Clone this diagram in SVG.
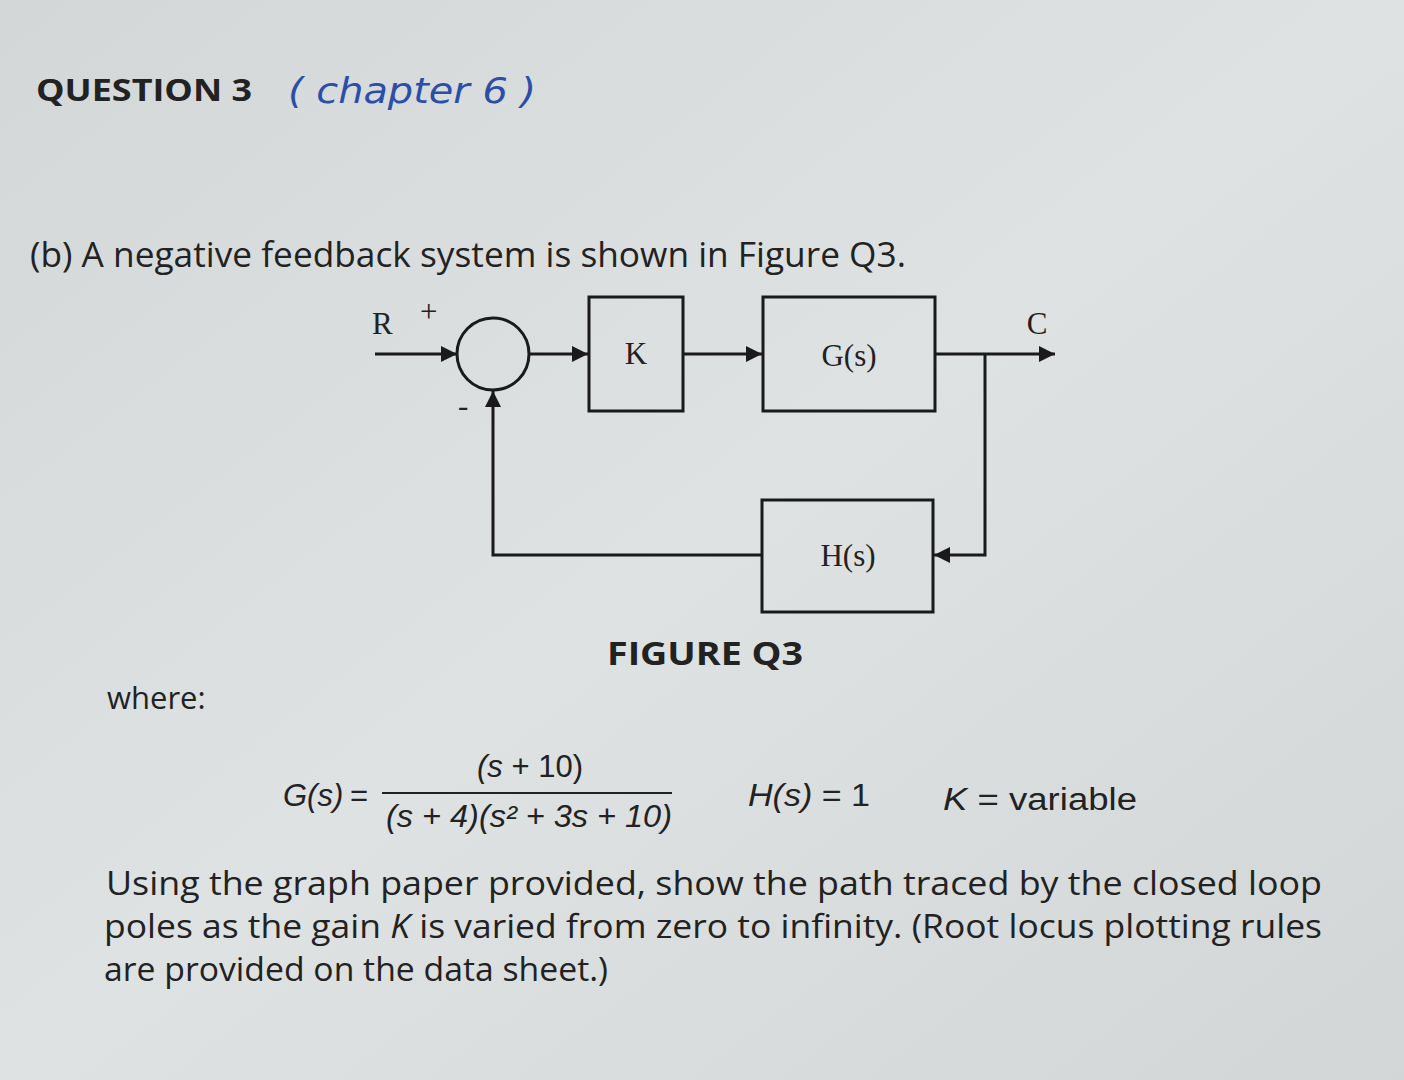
<svg xmlns="http://www.w3.org/2000/svg" width="1404" height="1080" viewBox="0 0 1404 1080">
<defs>
<linearGradient id="bg" x1="0" y1="0" x2="1" y2="1"><stop offset="0" stop-color="#d3d7d8"/><stop offset="0.5" stop-color="#dee2e3"/><stop offset="1" stop-color="#d2d6d7"/></linearGradient>
<marker id="ah" viewBox="0 0 10 10" refX="10" refY="5" markerWidth="28" markerHeight="16" markerUnits="userSpaceOnUse" orient="auto"><path d="M0,0L10,5L0,10z" fill="#1a1a1a"/></marker>
</defs>
<style>
.s{font-family:"Open Sans","Liberation Sans",sans-serif;fill:#222}
.t{font-family:"Liberation Serif",serif;fill:#222;font-size:31px}
.m{font-family:"Liberation Sans",sans-serif;fill:#222;font-size:31px}
.b{fill:none;stroke:#1a1a1a;stroke-width:3}
.l{fill:none;stroke:#1a1a1a;stroke-width:3}
</style>
<rect width="1404" height="1080" fill="url(#bg)"/>
<text class="s" x="36" y="101" font-size="31" font-weight="bold" textLength="216" lengthAdjust="spacingAndGlyphs">QUESTION 3</text>
<text x="288" y="103" font-family="DejaVu Sans" font-style="italic" font-size="36" fill="#2b4fa8" textLength="248" lengthAdjust="spacingAndGlyphs">( chapter 6 )</text>
<text class="s" x="30" y="267" font-size="34" textLength="876" lengthAdjust="spacingAndGlyphs">(b) A negative feedback system is shown in Figure Q3.</text>
<g id="sum"><circle cx="493" cy="354" r="36" class="b"/><text class="t" x="372" y="334">R</text><text class="t" x="420" y="322">+</text><text class="t" x="458" y="416">-</text></g>
<g id="K"><rect x="589" y="297" width="94" height="114" class="b"/><text class="t" x="636" y="364" text-anchor="middle">K</text></g>
<g id="G"><rect x="763" y="297" width="172" height="114" class="b"/><text class="t" x="849" y="366" text-anchor="middle">G(s)</text></g>
<g id="H"><rect x="762" y="500" width="171" height="112" class="b"/><text class="t" x="848" y="566" text-anchor="middle">H(s)</text></g>
<text class="t" x="1037" y="334" text-anchor="middle">C</text>
<g id="connectors">
<line x1="375" y1="354" x2="457" y2="354" class="l" marker-end="url(#ah)"/>
<line x1="529" y1="354" x2="588" y2="354" class="l" marker-end="url(#ah)"/>
<line x1="683" y1="354" x2="762" y2="354" class="l" marker-end="url(#ah)"/>
<line x1="935" y1="354" x2="1055" y2="354" class="l" marker-end="url(#ah)"/>
<polyline points="985,354 985,555 934,555" class="l" marker-end="url(#ah)"/>
<polyline points="762,555 493,555 493,391" class="l" marker-end="url(#ah)"/>
</g>
<text class="s" x="607" y="665" font-size="33" font-weight="bold" textLength="196" lengthAdjust="spacingAndGlyphs">FIGURE Q3</text>
<text class="s" x="107" y="709" font-size="31">where:</text>
<text class="m" x="283" y="806" font-style="italic">G(s)</text><text class="m" x="350" y="806">=</text>
<text class="m" x="530" y="777" text-anchor="middle"><tspan font-style="italic">(s</tspan> + 10)</text>
<line x1="382" y1="793" x2="672" y2="793" stroke="#222" stroke-width="2"/>
<text class="m" x="386" y="827" font-style="italic" textLength="286" lengthAdjust="spacingAndGlyphs">(s + 4)(s² + 3s + 10)</text>
<text class="m" x="748" y="806" textLength="122" lengthAdjust="spacingAndGlyphs"><tspan font-style="italic">H(s)</tspan> = 1</text>
<text class="m" x="943" y="810" font-size="34" textLength="194" lengthAdjust="spacingAndGlyphs"><tspan font-style="italic">K</tspan> = variable</text>
<text class="s" font-size="33">
<tspan x="106" y="895" textLength="1216" lengthAdjust="spacingAndGlyphs">Using the graph paper provided, show the path traced by the closed loop</tspan>
<tspan x="104" y="938" textLength="1218" lengthAdjust="spacingAndGlyphs">poles as the gain <tspan font-style="italic">K</tspan> is varied from zero to infinity. (Root locus plotting rules</tspan>
<tspan x="104" y="981" textLength="504" lengthAdjust="spacingAndGlyphs">are provided on the data sheet.)</tspan>
</text>
</svg>
